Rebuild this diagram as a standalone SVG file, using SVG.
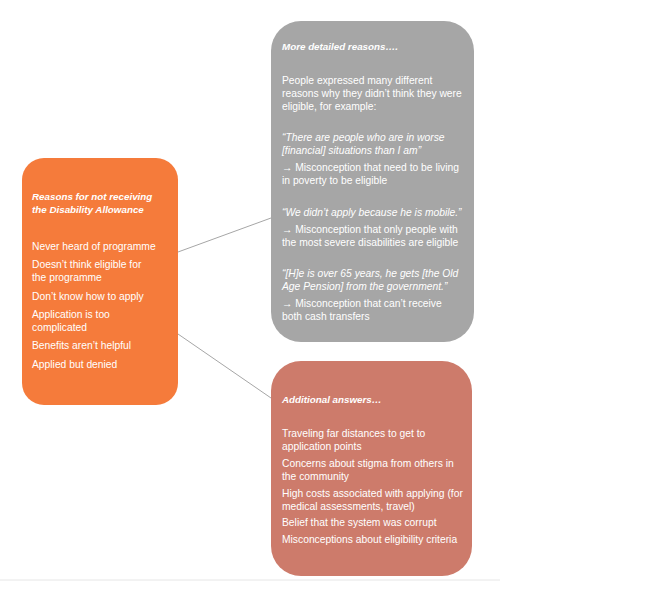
<svg xmlns="http://www.w3.org/2000/svg" width="648" height="600" viewBox="0 0 648 600">
<style>
text{font-family:"Liberation Sans",Arial,sans-serif;font-size:10.3px;fill:#fff}
.h{font-weight:bold;font-style:italic;font-size:9.8px}
.i{font-style:italic}
.c{stroke:#a6a6a6;stroke-width:1;fill:none}
</style>
<rect width="648" height="600" fill="#fff"/>
<line x1="0" y1="580" x2="500" y2="580" stroke="#e6e6e6"/>
<g id="connectors">
<line class="c" x1="178" y1="252" x2="271" y2="218"/>
<line class="c" x1="178" y1="334" x2="271" y2="398"/>
</g>
<g id="reasons">
<rect x="22" y="158" width="156" height="247" rx="22" fill="#f57b3b"/>
<text class="h" x="32" y="200">Reasons for not receiving</text>
<text class="h" x="32" y="213">the Disability Allowance</text>
<text x="32" y="250">Never heard of programme</text>
<text x="32" y="268">Doesn’t think eligible for</text>
<text x="32" y="281">the programme</text>
<text x="32" y="300">Don’t know how to apply</text>
<text x="32" y="318">Application is too</text>
<text x="32" y="331">complicated</text>
<text x="32" y="349">Benefits aren’t helpful</text>
<text x="32" y="368">Applied but denied</text>
</g>
<g id="detailed">
<rect x="271" y="21" width="203" height="321" rx="30" fill="#a6a6a6"/>
<text class="h" x="282" y="50">More detailed reasons….</text>
<text x="282" y="84">People expressed many different</text>
<text x="282" y="97">reasons why they didn’t think they were</text>
<text x="282" y="110">eligible, for example:</text>
<text class="i" x="282" y="141">“There are people who are in worse</text>
<text class="i" x="282" y="154">[financial] situations than I am”</text>
<text x="282" y="171">→ Misconception that need to be living</text>
<text x="282" y="184">in poverty to be eligible</text>
<text class="i" x="282" y="216">“We didn’t apply because he is mobile.”</text>
<text x="282" y="233">→ Misconception that only people with</text>
<text x="282" y="246">the most severe disabilities are eligible</text>
<text class="i" x="282" y="277">“[H]e is over 65 years, he gets [the Old</text>
<text class="i" x="282" y="290">Age Pension] from the government.”</text>
<text x="282" y="307">→ Misconception that can’t receive</text>
<text x="282" y="320">both cash transfers</text>
</g>
<g id="additional">
<rect x="271" y="361" width="201" height="215" rx="30" fill="#cd7b6b"/>
<text class="h" x="282" y="403">Additional answers…</text>
<text x="282" y="437">Traveling far distances to get to</text>
<text x="282" y="450">application points</text>
<text x="282" y="467">Concerns about stigma from others in</text>
<text x="282" y="480">the community</text>
<text x="282" y="497">High costs associated with applying (for</text>
<text x="282" y="510">medical assessments, travel)</text>
<text x="282" y="526">Belief that the system was corrupt</text>
<text x="282" y="543">Misconceptions about eligibility criteria</text>
</g>
</svg>
